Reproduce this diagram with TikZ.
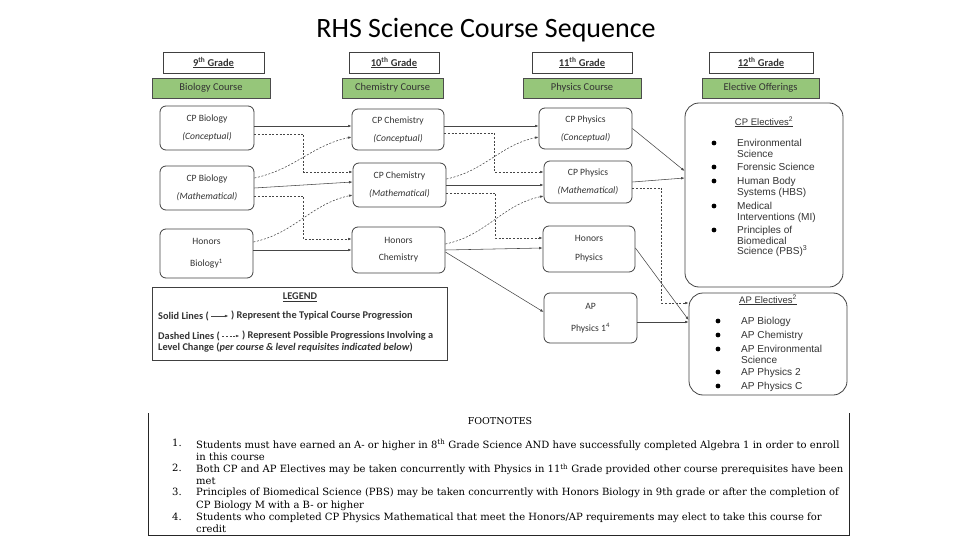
\documentclass[tikz,border=0pt]{standalone}
\usepackage{fontspec}
\setmainfont{Carlito}
\newfontfamily\arialfont{Liberation Sans}
\newfontfamily\notefont{DejaVu Serif}
\usetikzlibrary{arrows.meta,positioning}
\definecolor{hdrgreen}{RGB}{150,198,122}
\definecolor{linegray}{RGB}{70,70,70}

\begin{document}
\begin{tikzpicture}[x=1pt,y=-1pt,
    gradebox/.style={draw=black!75, line width=0.8pt, minimum width=#1, minimum height=21pt,
      inner sep=0pt, font=\fontsize{10.5}{12}\selectfont\bfseries, text=black!80},
    greenbox/.style={draw=black!70, fill=hdrgreen, line width=0.8pt, minimum width=#1, minimum height=20pt,
      inner sep=0pt, font=\fontsize{10.5}{12}\selectfont, text=black!80},
    coursebox/.style={draw=black!75, line width=0.8pt, rounded corners=6pt, align=center,
      inner sep=0pt, font=\fontsize{9.6}{11}\selectfont, text=black!80},
    electbox/.style={draw=black!75, line width=0.8pt, rounded corners=14pt, inner sep=0pt},
    elhead/.style={font=\arialfont\fontsize{9.5}{10.5}\selectfont, text=black!80},
    elitem/.style={font=\arialfont\fontsize{10.1}{10.5}\selectfont, text=black!80, align=left,
      inner sep=0pt, anchor=north west},
    legtext/.style={font=\fontsize{10.3}{12}\selectfont\bfseries, text=black!80, inner sep=0pt},
    notetext/.style={font=\notefont\fontsize{10}{12.2}\selectfont, text=black, align=left,
      inner sep=0pt, anchor=north west},
    link/.style={draw=linegray, line width=0.55pt, -{Latex[length=3.5pt,width=2.6pt]}},
    dlink/.style={link, dash pattern=on 2pt off 1.6pt}]
    \useasboundingbox (0,0) rectangle (960,540);

    % 標題
    \node[font=\fontsize{28}{32}\selectfont] (title) at (486,30) {RHS Science Course Sequence};

    % 年級與課程標頭
    \node[gradebox=101pt] (g9) at (213.5,62.5) {\underline{9\textsuperscript{th} Grade}};
    \node[gradebox=90pt] (g10) at (394,62.5) {\underline{10\textsuperscript{th} Grade}};
    \node[gradebox=100pt] (g11) at (582,62.5) {\underline{11\textsuperscript{th} Grade}};
    \node[gradebox=104pt] (g12) at (761,62.5) {\underline{12\textsuperscript{th} Grade}};
    \node[greenbox=118pt] (bioHd) at (211,88) {Biology Course};
    \node[greenbox=101pt] (chemHd) at (392.5,88) {Chemistry Course};
    \node[greenbox=118pt] (physHd) at (582,88) {Physics Course};
    \node[greenbox=117pt] (elecHd) at (760.5,88) {Elective Offerings};

    % 生物課程
    \node[coursebox, minimum width=94pt, minimum height=44pt] (bioC) at (207,128) {CP Biology\\[7pt]\textit{(Conceptual)}};
    \node[coursebox, minimum width=94pt, minimum height=44pt] (bioM) at (207,188) {CP Biology\\[7pt]\textit{(Mathematical)}};
    \node[coursebox, minimum width=93pt, minimum height=49pt] (bioH) at (206.5,253.5) {Honors\\[11pt]Biology\textsuperscript{1}};

    % 化學課程
    \node[coursebox, minimum width=92pt, minimum height=41pt] (chemC) at (398,129.5) {CP Chemistry\\[7pt]\textit{(Conceptual)}};
    \node[coursebox, minimum width=93pt, minimum height=44pt] (chemM) at (399.5,185) {CP Chemistry\\[7pt]\textit{(Mathematical)}};
    \node[coursebox, minimum width=93pt, minimum height=46pt] (chemH) at (398.5,250) {Honors\\[6pt]Chemistry};

    % 物理課程
    \node[coursebox, minimum width=93pt, minimum height=41pt] (physC) at (585.5,128.5) {CP Physics\\[7pt]\textit{(Conceptual)}};
    \node[coursebox, minimum width=88pt, minimum height=42pt] (physM) at (588,182) {CP Physics\\[7pt]\textit{(Mathematical)}};
    \node[coursebox, minimum width=92pt, minimum height=46pt] (physH) at (589,249) {Honors\\[8pt]Physics};
    \node[coursebox, minimum width=93pt, minimum height=50pt] (ap1) at (590.5,318) {AP\\[11pt]Physics 1\textsuperscript{4}};

    % 選修課程
    \node[electbox, minimum width=158pt, minimum height=184pt] (cpEl) at (764,195) {};
    \node[electbox, minimum width=158pt, minimum height=102pt] (apEl) at (768,344) {};
    \node[elhead] (cpElHd) at (764,122) {\underline{CP Electives\textsuperscript{2}}};
    \node[elhead] (apElHd) at (768,300) {\underline{AP Electives\textsuperscript{2}}};
    \foreach \yy/\txt in {143/{Environmental\\Science}, 167/{Forensic Science}, 181/{Human Body\\Systems (HBS)},
        206/{Medical\\Interventions (MI)}, 230/{Principles of\\Biomedical\\Science (PBS)\textsuperscript{3}}} {
      \fill (714,\yy) circle (2.4pt);
      \node[elitem] at (737,\yy-4) {\txt};
    }
    \foreach \yy/\txt in {321/{AP Biology}, 335/{AP Chemistry}, 349/{AP Environmental\\Science},
        372/{AP Physics 2}, 386/{AP Physics C}} {
      \fill (718,\yy) circle (2.4pt);
      \node[elitem] at (741,\yy-4) {\txt};
    }

    % 圖例
    \node[draw=black!75, line width=0.8pt, minimum width=295pt, minimum height=73pt] (legend) at (299.5,323.5) {};
    \node[legtext] (legHd) at (300,297) {\underline{LEGEND}};
    \node[legtext, anchor=west] (solidL) at (158,316) {Solid Lines (};
    \node[legtext, right=22pt of solidL] (solidR) {) Represent the Typical Course Progression};
    \node[legtext, anchor=west] (dashL) at (158,336) {Dashed Lines (};
    \node[legtext, right=22pt of dashL] (dashR) {) Represent Possible Progressions Involving a};
    \node[legtext, anchor=west] (dashR2) at (158,348) {Level Change (\textit{per course \& level requisites indicated below})};
    \draw[link, shorten <=2.5pt, shorten >=2.5pt] (solidL.east) -- (solidR.west);
    \draw[dlink, shorten <=2.5pt, shorten >=2.5pt] (dashL.east) -- (dashR.west);

    % 生物 -> 化學
    \draw[link] ([yshift=2pt]bioC.east) -- ([yshift=3.5pt]chemC.west);
    \draw[dlink] ([yshift=-6pt]bioC.east) -- ++(49,0) |- ([yshift=13pt]chemM.west);
    \draw[dlink] ([yshift=10pt]bioM.east) to[out=12,in=192] ([yshift=-7.5pt]chemC.west);
    \draw[link] (bioM.east) -- ([yshift=3pt]chemM.west);
    \draw[dlink] ([yshift=-8pt]bioM.east) -- ++(49,0) |- ([yshift=11pt]chemH.west);
    \draw[dlink] ([yshift=11.5pt]bioH.east) to[out=12,in=192] ([yshift=-10pt]chemM.west);
    \draw[link] ([yshift=3.5pt]bioH.east) -- (chemH.west);

    % 化學 -> 物理
    \draw[link] ([yshift=3.5pt]chemC.east) -- ([yshift=2.5pt]physC.west);
    \draw[dlink] ([yshift=-3.5pt]chemC.east) -- ++(50,0) |- ([yshift=10pt]physM.west);
    \draw[dlink] ([yshift=6pt]chemM.east) to[out=12,in=192] ([yshift=-8.5pt]physC.west);
    \draw[link] (chemM.east) -- ([yshift=-3pt]physM.west);
    \draw[dlink] ([yshift=-8pt]chemM.east) -- ++(49,0) |- ([yshift=11pt]physH.west);
    \draw[dlink] ([yshift=6pt]chemH.east) to[out=12,in=192] ([yshift=-14pt]physM.west);
    \draw[link] (chemH.east) -- ([yshift=1pt]physH.west);
    \draw[link] ([yshift=-2pt]chemH.east) -- ([yshift=6pt]ap1.west);

    % 物理 -> 選修
    \draw[link] (physC.east) -- ([yshift=24pt]cpEl.west);
    \draw[link] (physM.east) -- ([yshift=17pt]cpEl.west);
    \draw[dlink] ([yshift=-6pt]physM.east) -- ++(29,0) |- ([yshift=41pt]apEl.west);
    \draw[link] ([yshift=1pt]physH.east) -- ([yshift=24pt]apEl.west);
    \draw[link] ([yshift=-4pt]ap1.east) -- ([yshift=22pt]apEl.west);

    % 註腳
    \draw[black!85, line width=0.9pt] (148,413) -- (148,535) -- (849,535) -- (849,413);
    \node[font=\notefont\fontsize{9.5}{11}\selectfont] (fnHd) at (500,421) {FOOTNOTES};
    \node[notetext] (n1) at (172,439) {1.};
    \node[notetext] (f1) at (196,439) {Students must have earned an A- or higher in 8\textsuperscript{th} Grade Science AND have successfully completed Algebra 1 in order to enroll\\in this course};
    \node[notetext] (n2) at (172,463.5) {2.};
    \node[notetext] (f2) at (196,463.5) {Both CP and AP Electives may be taken concurrently with Physics in 11\textsuperscript{th} Grade provided other course prerequisites have been\\met};
    \node[notetext] (n3) at (172,488) {3.};
    \node[notetext] (f3) at (196,488) {Principles of Biomedical Science (PBS) may be taken concurrently with Honors Biology in 9th grade or after the completion of\\CP Biology M with a B- or higher};
    \node[notetext] (n4) at (172,512.5) {4.};
    \node[notetext] (f4) at (196,512.5) {Students who completed CP Physics Mathematical that meet the Honors/AP requirements may elect to take this course for\\credit};
\end{tikzpicture}
\end{document}
